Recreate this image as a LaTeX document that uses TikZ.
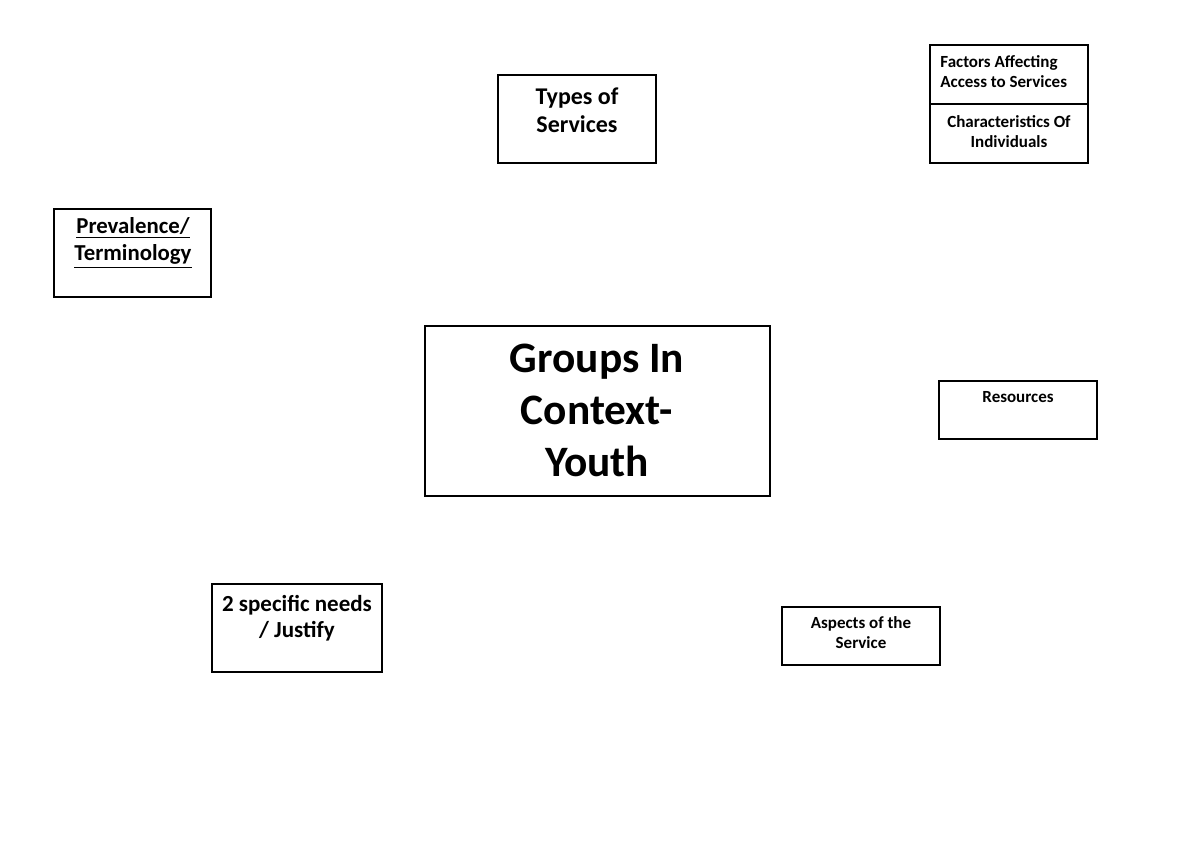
\documentclass[tikz,border=0pt]{standalone}
\usepackage{fontspec}
\setmainfont{Carlito}
\begin{document}
\begin{tikzpicture}[x=0.5pt,y=-0.5pt,
  box/.style={draw=black,line width=0.55pt,inner sep=0pt,minimum width=#1},
  lbl/.style={inner sep=0pt,align=center,font=\bfseries}]
\useasboundingbox (0,0) rectangle (1200,849);
% boxes
\node[box=79pt,minimum height=44pt] (types) at (577,119) {};
\node[box=79pt,minimum height=29.5pt] (factors) at (1009,74.5) {};
\node[box=79pt,minimum height=29.5pt] (charac) at (1009,133.5) {};
\node[box=78.5pt,minimum height=44pt] (prev) at (132.5,253) {};
\node[box=172.5pt,minimum height=85pt] (groups) at (597.5,411) {};
\node[box=79pt,minimum height=29pt] (res) at (1018,410) {};
\node[box=79pt,minimum height=29pt] (asp) at (861,636) {};
\node[box=85pt,minimum height=44pt] (needs) at (297,628) {};
% texts
\node[lbl,font=\bfseries\fontsize{12}{14}\selectfont] (typesT) at (577,110) {Types of\\Services};
\node[lbl,align=left,anchor=west,font=\bfseries\fontsize{8.5}{10}\selectfont] (factorsT) at (940,72) {Factors Affecting\\Access to Services};
\node[lbl,font=\bfseries\fontsize{8.5}{10}\selectfont] (characT) at (1009,132) {Characteristics Of\\Individuals};
\node[lbl,font=\bfseries\fontsize{11.4}{13.5}\selectfont] (prevT) at (133,243) {\underline{Prevalence/}\\\underline{Terminology}};
\node[lbl,font=\bfseries\fontsize{21.7}{26}\selectfont] (groupsT) at (597,410) {Groups In\\Context-\\Youth};
\node[lbl,font=\bfseries\fontsize{8.5}{10}\selectfont] (resT) at (1018,397) {Resources};
\node[lbl,font=\bfseries\fontsize{8.5}{10}\selectfont] (aspT) at (861,633) {Aspects of the\\Service};
\node[lbl,font=\bfseries\fontsize{11.5}{13}\selectfont] (needsT) at (297,618) {2 specific needs\\/ Justify};
\end{tikzpicture}
\end{document}
